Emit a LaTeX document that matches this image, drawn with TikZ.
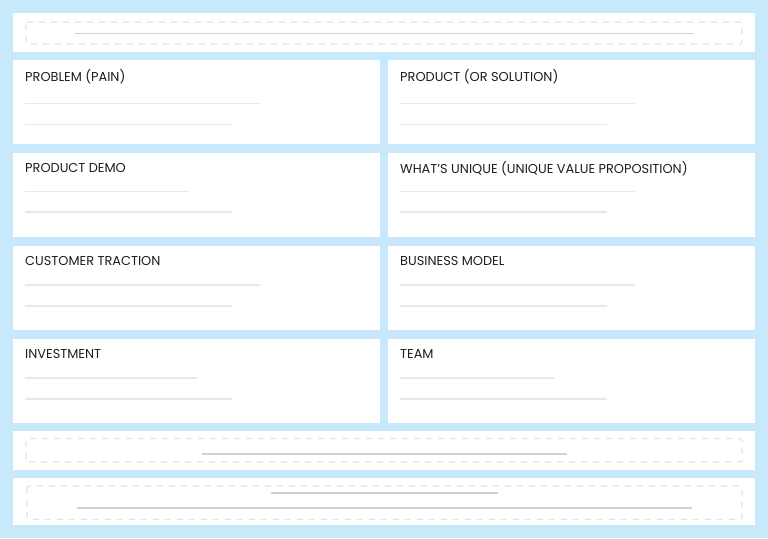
\documentclass[tikz,border=0pt]{standalone}
\usepackage{fontspec}
\setmainfont{Poppins}
\usepackage{xcolor}
\usepackage{tikz}
\usetikzlibrary{positioning}

\definecolor{canvasblue}{HTML}{C8E8FB}
\definecolor{dashblue}{HTML}{CDE9FB}
\definecolor{rulegray}{HTML}{D2D2D2}
\definecolor{blankgray}{HTML}{E6E8EC}
\definecolor{titleink}{HTML}{1E1E1E}

\tikzset{
	cell/.style={fill=white, minimum width=367pt, minimum height=84pt, anchor=north west, inner sep=0pt},
	strip/.style={fill=white, minimum width=742pt, anchor=north west, inner sep=0pt},
	title/.style={anchor=west, inner sep=0pt, text=titleink, font=\fontsize{12.9}{14}\selectfont},
	blank/.style={draw=blankgray, line width=1.4pt},
	rule/.style={draw=rulegray, line width=1.7pt},
	frame/.style={draw=dashblue, line width=1.1pt, dash pattern=on 6pt off 6pt, rounded corners=2pt}
}

\begin{document}
\begin{tikzpicture}[x=1pt, y=-1pt]
	\fill[canvasblue] (0,0) rectangle (768,538);

	% header
	\node[strip, minimum height=39pt] (header) at (13,13) {};
	\draw[frame] (26,22) rectangle (742,44);
	\draw[rule] (75,33.5) -- (694,33.5);

	% canvas cells
	\node[cell] (problem) at (13,59.3) {};
	\node[cell] (product) at (388,59.3) {};
	\node[cell] (demo) at (13,152.7) {};
	\node[cell] (unique) at (388,152.7) {};
	\node[cell] (traction) at (13,245.7) {};
	\node[cell] (model) at (388,245.7) {};
	\node[cell] (invest) at (13,338.5) {};
	\node[cell] (team) at (388,338.5) {};

	\node[title] (t-problem) at ([shift={(12,17)}]problem.north west) {PROBLEM (PAIN)};
	\node[title] (t-product) at ([shift={(12,17)}]product.north west) {PRODUCT (OR SOLUTION)};
	\node[title] (t-demo) at ([shift={(12,15.6)}]demo.north west) {PRODUCT DEMO};
	\node[title] (t-unique) at ([shift={(12,15.6)}]unique.north west) {WHAT'S UNIQUE (UNIQUE VALUE PROPOSITION)};
	\node[title] (t-traction) at ([shift={(12,15.6)}]traction.north west) {CUSTOMER TRACTION};
	\node[title] (t-model) at ([shift={(12,15.6)}]model.north west) {BUSINESS MODEL};
	\node[title] (t-invest) at ([shift={(12,15.6)}]invest.north west) {INVESTMENT};
	\node[title] (t-team) at ([shift={(12,15.6)}]team.north west) {TEAM};

	% blanks to fill in
	\draw[blank] ([shift={(12,44)}]problem.north west) -- ++(235,0);
	\draw[blank] ([shift={(12,65)}]problem.north west) -- ++(207,0);
	\draw[blank] ([shift={(12,44)}]product.north west) -- ++(235,0);
	\draw[blank] ([shift={(12,65)}]product.north west) -- ++(207,0);
	\draw[blank] ([shift={(12,38.5)}]demo.north west) -- ++(164,0);
	\draw[blank] ([shift={(12,59.3)}]demo.north west) -- ++(207,0);
	\draw[blank] ([shift={(12,38.5)}]unique.north west) -- ++(235,0);
	\draw[blank] ([shift={(12,59.3)}]unique.north west) -- ++(207,0);
	\draw[blank] ([shift={(12,39.3)}]traction.north west) -- ++(235,0);
	\draw[blank] ([shift={(12,60.3)}]traction.north west) -- ++(207,0);
	\draw[blank] ([shift={(12,39.3)}]model.north west) -- ++(235,0);
	\draw[blank] ([shift={(12,60.3)}]model.north west) -- ++(207,0);
	\draw[blank] ([shift={(12,39.3)}]invest.north west) -- ++(172,0);
	\draw[blank] ([shift={(12,60.5)}]invest.north west) -- ++(207,0);
	\draw[blank] ([shift={(12,39.3)}]team.north west) -- ++(154,0);
	\draw[blank] ([shift={(12,60.5)}]team.north west) -- ++(207,0);

	% footer strips
	\node[strip, minimum height=38.5pt] (footer) at (13,431) {};
	\draw[frame] (26,438.5) rectangle (742,462);
	\draw[rule] (202,454.3) -- (567,454.3);

	\node[strip, minimum height=47.5pt] (signoff) at (13,477.7) {};
	\draw[frame] (27,486) rectangle (742,519.3);
	\draw[rule] (271,492.7) -- (498,492.7);
	\draw[rule] (77,507.7) -- (692,507.7);
\end{tikzpicture}
\end{document}
